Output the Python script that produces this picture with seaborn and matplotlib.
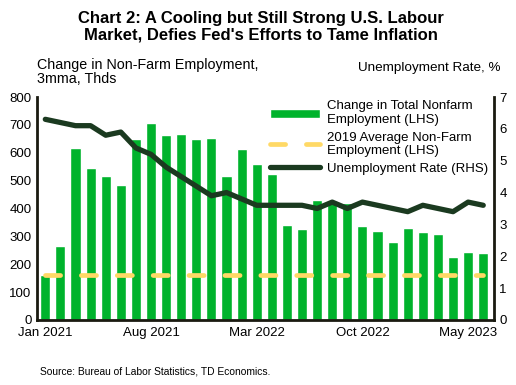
import matplotlib
matplotlib.use("Agg")
import matplotlib.pyplot as plt
import seaborn as sns
import numpy as np
import pandas as pd

months = ["Jan 2021", "Feb 2021", "Mar 2021", "Apr 2021", "May 2021", "Jun 2021",
          "Jul 2021", "Aug 2021", "Sep 2021", "Oct 2021", "Nov 2021", "Dec 2021",
          "Jan 2022", "Feb 2022", "Mar 2022", "Apr 2022", "May 2022", "Jun 2022",
          "Jul 2022", "Aug 2022", "Sep 2022", "Oct 2022", "Nov 2022", "Dec 2022",
          "Jan 2023", "Feb 2023", "Mar 2023", "Apr 2023", "May 2023", "Jun 2023"]
nfp_change = [162, 266, 616, 547, 515, 486, 648, 706, 662, 667, 648, 652, 515, 612, 558,
              522, 342, 328, 432, 428, 421, 338, 320, 281, 331, 317, 310, 227, 245, 241]
avg_2019 = 163
unemployment = [6.3, 6.2, 6.1, 6.1, 5.8, 5.9, 5.4, 5.2, 4.8, 4.5, 4.2, 3.9, 4.0, 3.8, 3.6,
                3.6, 3.6, 3.6, 3.5, 3.7, 3.5, 3.7, 3.6, 3.5, 3.4, 3.6, 3.5, 3.4, 3.7, 3.6]
tick_labels = ["Jan 2021", "Aug 2021", "Mar 2022", "Oct 2022", "May 2023"]

sns.set_style("white")
plt.rcParams['font.family'] = ['Liberation Sans', 'DejaVu Sans']
plt.rcParams['text.color'] = 'black'

BAR = "#00B32C"
AVG = "#FFD966"
LINE = "#1B3A20"
SPINE = "#1a1a10"

LBL_BAR = "Change in Total Nonfarm\nEmployment (LHS)"
LBL_AVG = "2019 Average Non-Farm\nEmployment (LHS)"
LBL_UR = "Unemployment Rate (RHS)"

df = pd.DataFrame({"month": months, "nfp": nfp_change, "ur": unemployment,
                   "avg": [avg_2019] * len(months), "pos": np.arange(len(months))})

fig = plt.figure(figsize=(5.16, 3.85), dpi=100)
ax = fig.add_axes([0.0717, 0.169, 0.8853, 0.579])

sns.barplot(data=df, x="month", y="nfp", color=BAR, saturation=1, width=0.67, ax=ax,
            label=LBL_BAR)
if ax.get_legend() is not None:
    ax.get_legend().remove()
ax.plot(df["pos"], df["avg"], color=AVG, lw=3.4, dashes=(3.2, 4.4),
        dash_capstyle="round", label=LBL_AVG)

ax2 = ax.twinx()
sns.lineplot(data=df, x="pos", y="ur", color=LINE, lw=3.8, ax=ax2,
             label=LBL_UR, legend=False)

ax.set_xlim(-0.55, 29.7)
ax.set_ylim(0, 800)
ax.set_yticks(range(0, 801, 100))
ax2.set_ylim(0, 7)
ax2.set_yticks(range(0, 8))
ax.set_xticks([months.index(m) for m in tick_labels])
ax.set_xticklabels(tick_labels)
ax.set_xlabel("")
ax.set_ylabel("")
ax2.set_xlabel("")
ax2.set_ylabel("")

for a in (ax, ax2):
    a.tick_params(axis="both", length=0, labelsize=9.5, colors="black", pad=4)
    for s in a.spines.values():
        s.set_visible(False)
ax.spines["left"].set_visible(True)
ax.spines["bottom"].set_visible(True)
ax2.spines["right"].set_visible(True)
for s in (ax.spines["left"], ax.spines["bottom"], ax2.spines["right"]):
    s.set_color(SPINE)
    s.set_linewidth(2)
ax.tick_params(axis="x", pad=5)

handles = {}
for a in (ax, ax2):
    hs, ls = a.get_legend_handles_labels()
    for h, l in zip(hs, ls):
        handles.setdefault(l, h)
order = [LBL_BAR, LBL_AVG, LBL_UR]
leg = ax2.legend([handles[l] for l in order], order, loc="upper right",
                 bbox_to_anchor=(1.005, 1.02), frameon=False, fontsize=9.5,
                 handlelength=3.8, handletextpad=0.5, labelspacing=0.4,
                 borderaxespad=0.2)
for t in leg.get_texts():
    t.set_color("black")

fig.text(0.506, 0.931, "Chart 2: A Cooling but Still Strong U.S. Labour\nMarket, Defies Fed's Efforts to Tame Inflation",
         ha="center", va="center", fontsize=12, fontweight="bold", linespacing=1.1,
         color="black")
fig.text(0.072, 0.813, "Change in Non-Farm Employment,\n3mma, Thds", ha="left", va="center",
         fontsize=10.3, linespacing=0.95, color="black")
fig.text(0.97, 0.823, "Unemployment Rate, %", ha="right", va="center", fontsize=9.7,
         color="black")
fig.text(0.078, 0.034, "Source: Bureau of Labor Statistics, TD Economics.", ha="left",
         va="center", fontsize=7.4, color="black")

fig.savefig("out.png", dpi=100)
